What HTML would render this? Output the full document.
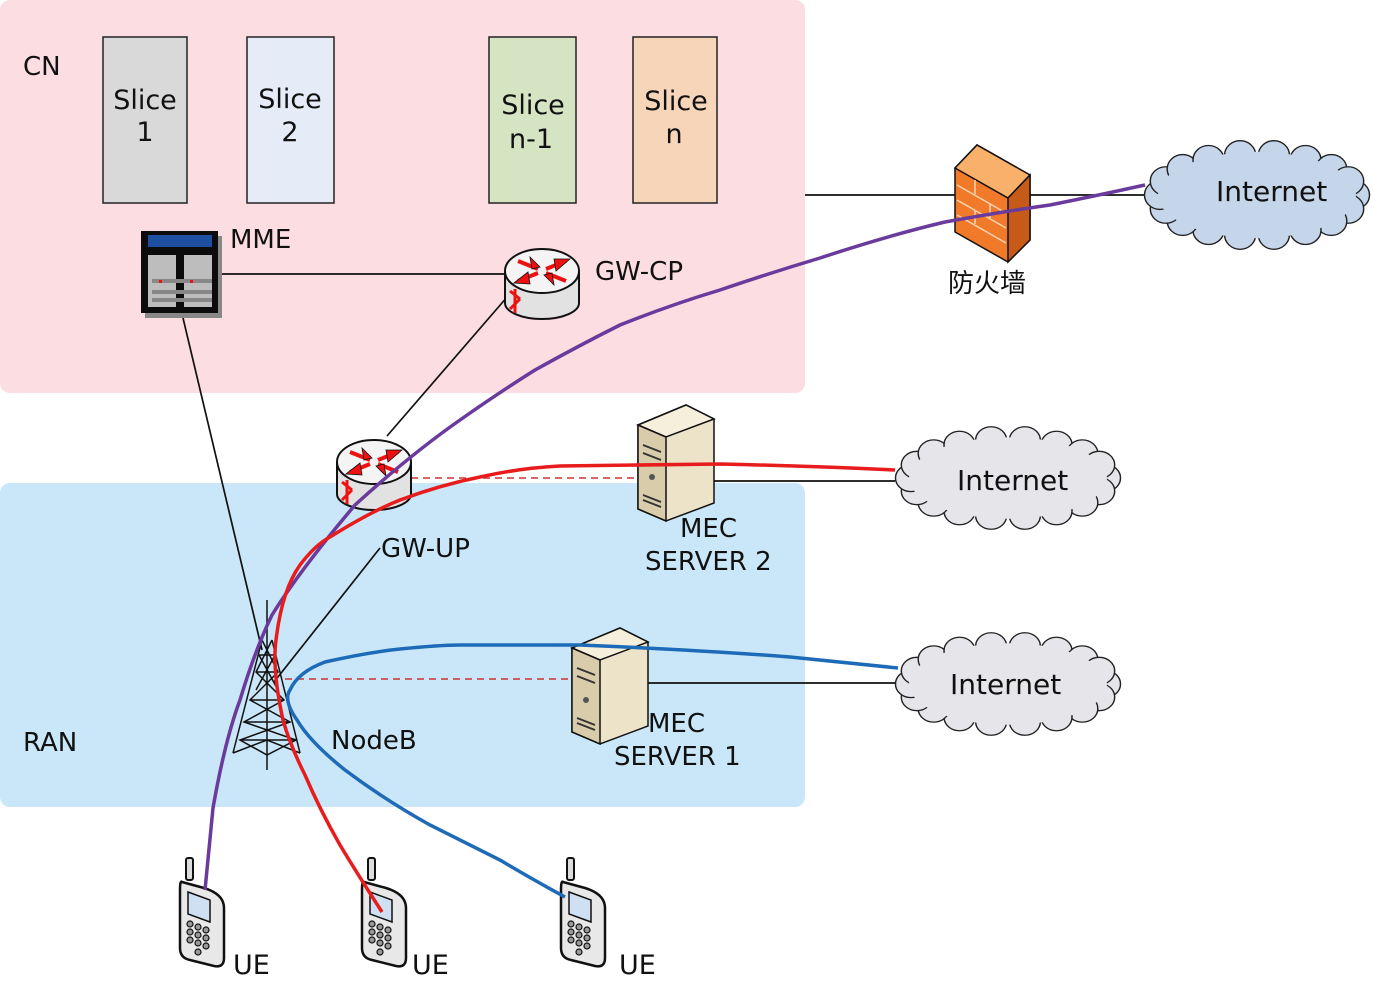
<!DOCTYPE html>
<html><head><meta charset="utf-8"><style>
html,body{margin:0;padding:0;background:#fff;}
svg{display:block;}
text{font-family:"DejaVu Sans","Liberation Sans","Noto Sans CJK SC",sans-serif;fill:#111;}
</style></head><body>
<svg width="1374" height="985" viewBox="0 0 1374 985" xmlns="http://www.w3.org/2000/svg">
<defs>
<g id="cloud">
<g stroke="#222" stroke-width="1.5">
<circle cx="100" cy="0" r="16"/><circle cx="94" cy="15.4" r="16"/><circle cx="76.6" cy="28.9" r="16"/><circle cx="50" cy="39" r="16"/><circle cx="17.4" cy="44.3" r="16"/><circle cx="-17.4" cy="44.3" r="16"/><circle cx="-50" cy="39" r="16"/><circle cx="-76.6" cy="28.9" r="16"/><circle cx="-94" cy="15.4" r="16"/><circle cx="-100" cy="0" r="16"/><circle cx="-94" cy="-15.4" r="16"/><circle cx="-76.6" cy="-28.9" r="16"/><circle cx="-50" cy="-39" r="16"/><circle cx="-17.4" cy="-44.3" r="16"/><circle cx="17.4" cy="-44.3" r="16"/><circle cx="50" cy="-39" r="16"/><circle cx="76.6" cy="-28.9" r="16"/><circle cx="94" cy="-15.4" r="16"/>
</g>
<ellipse cx="0" cy="0" rx="102" ry="48" stroke="none"/>
</g>
<g id="router">
<path d="M-37,-12 L-37,20 A37,16 0 0 0 37,20 L37,-12" fill="#e2e2e2" stroke="#111" stroke-width="2"/>
<ellipse cx="0" cy="-12" rx="37" ry="22" fill="#f4f4f4" stroke="#111" stroke-width="2"/>
<g stroke="#e11" stroke-width="4" fill="#e11">
<line x1="-24" y1="-22" x2="-4" y2="-14"/><line x1="24" y1="-2" x2="4" y2="-10"/>
<line x1="-24" y1="-2" x2="-4" y2="-10" /><line x1="24" y1="-22" x2="4" y2="-14"/>
</g>
<g fill="#e11" stroke="#111" stroke-width="0.8">
<polygon points="-28,0 -14,-11 -12,1"/><polygon points="28,-24 14,-12 12,-24"/>
<polygon points="-2,-16 -12,-26 -10,-14"/><polygon points="2,-8 12,2 10,-10"/>
</g>
<path d="M-32,8 l10,8 M-32,26 l10,-10 M-27,6 l0,24" stroke="#e11" stroke-width="3"/>
</g>
<g id="phone">
<rect x="6" y="0" width="7" height="22" rx="2" fill="#ddd" stroke="#111" stroke-width="2"/>
<path d="M2,24 L24,30 Q44,36 44,50 L44,100 Q44,110 34,108 L10,102 Q0,100 0,90 L0,32 Q0,22 2,24 Z" fill="#e8e8e8" stroke="#111" stroke-width="2.5"/>
<polygon points="8,34 30,42 30,64 8,56" fill="#cfe0f3" stroke="#111" stroke-width="1.5"/>
<g fill="#999" stroke="#111" stroke-width="1.2">
<circle cx="10" cy="66" r="3"/><circle cx="18" cy="69" r="3"/><circle cx="26" cy="72" r="3"/>
<circle cx="10" cy="74" r="3"/><circle cx="18" cy="77" r="3"/><circle cx="26" cy="80" r="3"/>
<circle cx="10" cy="82" r="3"/><circle cx="18" cy="85" r="3"/><circle cx="26" cy="88" r="3"/>
<circle cx="18" cy="94" r="3"/>
</g>
</g>
<g id="server">
<polygon points="0,20 48,0 76,14 76,98 28,116 0,104" fill="#ede3c8" stroke="#111" stroke-width="1.5"/>
<polygon points="0,20 48,0 76,14 28,32" fill="#f6efdc" stroke="#111" stroke-width="1.5"/>
<polygon points="0,20 28,32 28,116 0,104" fill="#d9ccaa" stroke="#111" stroke-width="1.5"/>
<g stroke="#333" stroke-width="2"><line x1="5" y1="40" x2="23" y2="47"/><line x1="5" y1="48" x2="23" y2="55"/><line x1="5" y1="90" x2="23" y2="97"/><line x1="5" y1="95" x2="23" y2="102"/></g>
<circle cx="14" cy="72" r="3" fill="#555"/>
</g>
</defs>

<rect x="0" y="0" width="805" height="393" rx="10" fill="#fcdde1"/>
<rect x="0" y="483" width="805" height="324" rx="10" fill="#c9e7f8"/>

<rect x="103" y="37" width="84" height="166" fill="#d9d9d9" stroke="#222" stroke-width="1.5"/>
<rect x="247" y="37" width="87" height="166" fill="#e6ecf7" stroke="#222" stroke-width="1.5"/>
<rect x="489" y="37" width="87" height="166" fill="#d5e5c3" stroke="#222" stroke-width="1.5"/>
<rect x="633" y="37" width="84" height="166" fill="#f6d5b9" stroke="#222" stroke-width="1.5"/>
<g font-size="27" text-anchor="middle">
<text x="145" y="109">Slice</text><text x="145" y="141">1</text>
<text x="290" y="108">Slice</text><text x="290" y="141">2</text>
<text x="533" y="114">Slice</text><text x="531" y="148">n-1</text>
<text x="676" y="110">Slice</text><text x="674" y="143">n</text>
</g>
<text x="23" y="75" font-size="26">CN</text>
<text x="23" y="751" font-size="26">RAN</text>

<g stroke="#111" stroke-width="1.7" fill="none">
<line x1="805" y1="195" x2="1145" y2="195"/>
<line x1="220" y1="274" x2="510" y2="274"/>
<line x1="183" y1="318" x2="262" y2="650"/>
<line x1="508" y1="296" x2="387" y2="436"/>
<line x1="380" y1="548" x2="274" y2="682"/>
<line x1="678" y1="481" x2="895" y2="481"/>
<line x1="610" y1="683" x2="895" y2="683"/>
</g>
<g stroke="#c33" stroke-width="1.5" stroke-dasharray="7,5">
<line x1="411" y1="478" x2="640" y2="478"/>
<line x1="285" y1="679" x2="575" y2="679"/>
</g>

<use href="#cloud" transform="translate(1257,195) scale(0.97,0.9)" fill="#c5d5ea"/>
<use href="#cloud" transform="translate(1008,478) scale(0.97,0.85)" fill="#e6e6ea"/>
<use href="#cloud" transform="translate(1008,684) scale(0.97,0.85)" fill="#e6e6ea"/>
<g font-size="28"><text x="1216" y="201">Internet</text><text x="957" y="490">Internet</text><text x="950" y="694">Internet</text></g>

<polygon points="955,168 977,145 1030,175 1030,240 1008,262 955,232" fill="#f07a2a" stroke="#111" stroke-width="1.5"/>
<polygon points="955,168 977,145 1030,175 1008,198" fill="#f8b06a" stroke="#111" stroke-width="1.5"/>
<polygon points="1008,198 1030,175 1030,240 1008,262" fill="#c85a18" stroke="#111" stroke-width="1.5"/>
<g stroke="#fbd3b0" stroke-width="1.5">
<line x1="957" y1="185" x2="1006" y2="213"/><line x1="957" y1="200" x2="1006" y2="228"/><line x1="957" y1="215" x2="1006" y2="243"/>
<line x1="975" y1="180" x2="975" y2="194"/><line x1="990" y1="204" x2="990" y2="218"/><line x1="975" y1="210" x2="975" y2="224"/>
</g>
<text x="948" y="292" font-size="26" style="font-family:'Noto Sans CJK SC',sans-serif">防火墙</text>

<rect x="145" y="236" width="77" height="82" fill="#888"/>
<rect x="141" y="231" width="77" height="82" fill="#0c0c0c"/>
<rect x="148" y="235" width="64" height="12" fill="#1e4fa0"/>
<rect x="148" y="255" width="64" height="52" fill="#bdbdbd"/>
<rect x="176" y="251" width="8" height="60" fill="#0c0c0c"/>
<g fill="#888"><rect x="152" y="279" width="60" height="4"/><rect x="152" y="290" width="60" height="4"/><rect x="152" y="298" width="60" height="4"/></g>
<rect x="159" y="280" width="3" height="3" fill="#e11"/><rect x="190" y="280" width="3" height="3" fill="#e11"/>
<text x="230" y="248" font-size="26">MME</text>

<use href="#server" transform="translate(638,405)"/>
<use href="#server" transform="translate(572,628)"/>
<g font-size="26"><text x="680" y="537">MEC</text><text x="645" y="570">SERVER 2</text>
<text x="648" y="732">MEC</text><text x="614" y="765">SERVER 1</text></g>

<use href="#router" transform="translate(542,283)"/>
<use href="#router" transform="translate(374,474)"/>
<text x="595" y="280" font-size="26">GW-CP</text>
<text x="381" y="557" font-size="26">GW-UP</text>

<g stroke="#111" stroke-width="1.5" fill="none">
<line x1="267" y1="600" x2="267" y2="770"/>
<polyline points="262,640 233,753"/><polyline points="272,640 300,753"/>
<path d="M250,700 L284,700 M244,722 L290,722 M240,740 L296,740 M256,672 L278,672 M259,655 L275,655"/>
<path d="M262,640 L278,672 L250,700 L290,722 L240,740 L267,755 L296,740 L244,722 L284,700 L256,672 L272,640"/>
<path d="M259,655 L278,690 M275,655 L256,690 M233,753 L267,740 L300,753"/>
</g>
<text x="331" y="749" font-size="26">NodeB</text>

<use href="#phone" transform="translate(180,858)"/>
<use href="#phone" transform="translate(362,858)"/>
<use href="#phone" transform="translate(561,858)"/>
<g font-size="27"><text x="233" y="974">UE</text><text x="412" y="974">UE</text><text x="619" y="974">UE</text></g>

<path d="M205,890 L213,808 Q225,740 240,700 Q255,650 272,615 Q300,570 355,505 Q410,455 460,420 Q500,392 535,370 Q580,345 620,325 Q670,305 720,290 Q770,273 820,258 Q890,235 945,222 Q1000,212 1050,205 Q1100,195 1145,185" fill="none" stroke="#6a3a9c" stroke-width="3.5"/>
<path d="M382,912 Q355,870 340,845 Q320,810 305,775 Q290,745 283,720 Q272,670 276,640 Q282,590 300,565 Q315,545 330,537 Q370,512 400,500 Q440,485 480,477 Q520,468 560,466 L720,464 Q810,466 895,470" fill="none" stroke="#e81c1c" stroke-width="3.5"/>
<path d="M565,897 Q530,878 500,860 Q460,840 430,825 Q385,800 345,770 Q310,742 297,720 Q283,700 290,690 Q298,672 325,662 Q370,652 400,649 Q440,645 460,645 L580,645 Q700,650 790,657 Q850,663 898,668" fill="none" stroke="#1d6ab8" stroke-width="3.5"/>
</svg>
</body></html>
